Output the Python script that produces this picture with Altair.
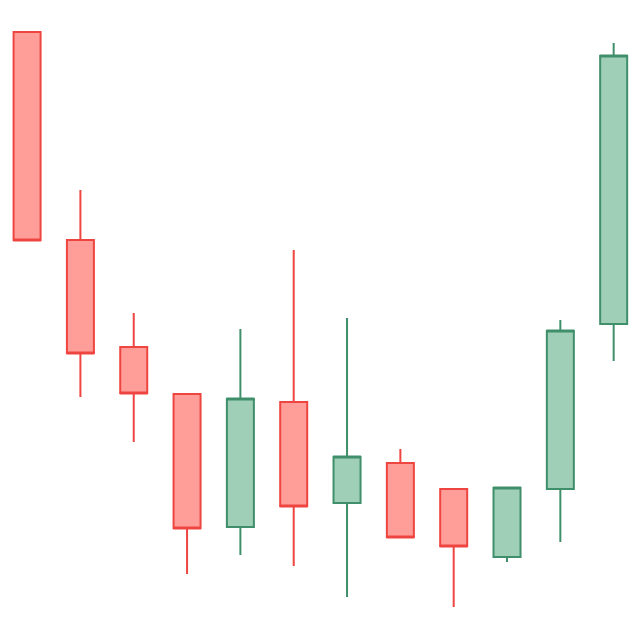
import altair as alt
import pandas as pd

idx = list(range(12))
open_ = [608, 400, 293, 246, 113, 238, 137, 177, 151, 83, 151, 316]
close = [400, 287, 247, 112, 241, 134, 183, 103, 94, 152, 309, 584]
high = [608, 450, 327, 246, 311, 390, 322, 191, 151, 152, 320, 597]
low = [400, 243, 198, 66, 85, 74, 43, 103, 33, 78, 98, 279]

df = pd.DataFrame({"i": idx, "open": open_, "close": close, "high": high, "low": low})
df["dir"] = ["up" if c > o else "down" for o, c in zip(open_, close)]

xsc = alt.Scale(domain=[-0.264, 11.25], nice=False, zero=False)
xs = alt.X("i:Q", scale=xsc, axis=None)
ysc = alt.Scale(domain=[8, 632], nice=False, zero=False)
stroke = alt.Color("dir:N", scale=alt.Scale(domain=["up", "down"], range=["#3f8f6b", "#ef4540"]), legend=None)
fill = alt.Fill("dir:N", scale=alt.Scale(domain=["up", "down"], range=["#a0cfb8", "#ff9e99"]), legend=None)

base = alt.Chart(df)
wick = base.mark_rule(strokeWidth=2).encode(
    x=xs, y=alt.Y("low:Q", scale=ysc, axis=None), y2="high:Q", color=stroke
)
body = base.mark_bar(size=27, strokeWidth=2).encode(
    x=xs, y=alt.Y("open:Q", scale=ysc, axis=None), y2="close:Q", fill=fill,
    stroke=alt.Stroke("dir:N", scale=alt.Scale(domain=["up", "down"], range=["#3f8f6b", "#ef4540"]), legend=None)
)
closeline = base.transform_calculate(
    xa="datum.i - 0.262", xb="datum.i + 0.262"
).mark_rule(strokeWidth=3).encode(
    x=alt.X("xa:Q", scale=xsc, axis=None), x2="xb:Q",
    y=alt.Y("close:Q", scale=ysc, axis=None), color=stroke
)

chart = alt.layer(wick, body, closeline).properties(
    width=624, height=624, padding=0
).configure_view(stroke=None)

chart.save("out.html", embed_options={"renderer": "svg", "actions": False})
